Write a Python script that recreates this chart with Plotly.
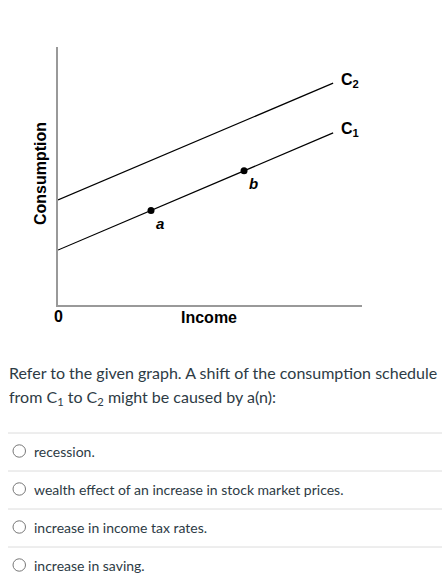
import plotly.graph_objects as go

# --- datos del gráfico (unidades arbitrarias: ingreso 0-100, consumo 0-100) ---
income_line = [0, 90.5]
c1_values = [21.3, 66.7]
c2_values = [40.7, 86.0]
point_names = ["a", "b"]
point_income = [30.6, 61.2]
point_consumption = [36.6, 52.0]

question_lines = [
    "Refer to the given graph. A shift of the consumption schedule",
    "from C<sub>1</sub> to C<sub>2</sub> might be caused by a(n):",
]
options = [
    "recession.",
    "wealth effect of an increase in stock market prices.",
    "increase in income tax rates.",
    "increase in saving.",
]

W, H = 442, 585


def px(x):
    return x / W


def py(y):
    return 1 - y / H


def label(x, y, text, font, **kw):
    # anotación en coordenadas de píxel de la página
    kw.setdefault("xanchor", "center")
    fig.add_annotation(x=px(x), y=py(y), xref="paper", yref="paper", text=text,
                       showarrow=False, yanchor="middle", font=font, **kw)


fig = go.Figure()
chart_font = dict(family="Liberation Sans", size=16, color="black")

# --- funciones de consumo ---
for name, vals in [("C<sub>2</sub>", c2_values), ("C<sub>1</sub>", c1_values)]:
    fig.add_trace(go.Scatter(x=income_line, y=vals, mode="lines",
                             line=dict(color="black", width=1.2), showlegend=False))
    fig.add_annotation(x=income_line[-1], y=vals[-1], text=f"<b>{name}</b>",
                       showarrow=False, xanchor="left", yanchor="middle",
                       xshift=6, yshift=3, font=chart_font)

# --- puntos a y b ---
fig.add_trace(go.Scatter(x=point_income, y=point_consumption, mode="markers",
                         marker=dict(color="black", size=7), showlegend=False))
for n, xi, yi in zip(point_names, point_income, point_consumption):
    fig.add_annotation(x=xi, y=yi, text=f"<b><i>{n}</i></b>", showarrow=False,
                       xanchor="center", yanchor="middle", xshift=9, yshift=-13,
                       font=dict(family="Liberation Sans", size=15, color="black"))

# --- etiquetas de ejes ---
label(58, 316, "<b>0</b>", chart_font)
label(209, 317, "<b>Income</b>", chart_font)
label(40, 174, "<b>Consumption</b>", chart_font, textangle=-90)

# --- texto de la pregunta ---
q_font = dict(family="Lato", size=16, color="#2d3b45")
for i, line in enumerate(question_lines):
    label(7, 372 + 25 * i, line, q_font, xanchor="left")

# --- opciones ---
o_font = dict(family="Lato", size=14, color="#2d3b45")
for i, opt in enumerate(options):
    ysep = 433 + 38 * i
    yc = ysep + 18
    fig.add_shape(type="line", xref="paper", yref="paper",
                  x0=px(8), x1=1, y0=py(ysep), y1=py(ysep),
                  line=dict(color="#dcdcdc", width=1))
    fig.add_shape(type="circle", xref="paper", yref="paper",
                  x0=px(13), x1=px(25.5), y0=py(yc - 6.2), y1=py(yc + 6.2),
                  line=dict(color="#777777", width=1), fillcolor="white")
    label(31.5, yc, opt, o_font, xanchor="left")

fig.update_layout(
    width=W, height=H,
    margin=dict(l=0, r=0, t=0, b=0),
    paper_bgcolor="white", plot_bgcolor="white",
    xaxis=dict(domain=[px(58), px(362)], range=[0, 100], showline=True,
               linecolor="#999999", linewidth=2, showgrid=False, zeroline=False,
               showticklabels=False, ticks="", fixedrange=True),
    yaxis=dict(domain=[py(305), py(47)], range=[0, 100], showline=True,
               linecolor="#999999", linewidth=2, showgrid=False, zeroline=False,
               showticklabels=False, ticks="", fixedrange=True),
)

fig.write_html("out.html", config={"displayModeBar": False},
               post_script="document.body.style.margin='0';")
